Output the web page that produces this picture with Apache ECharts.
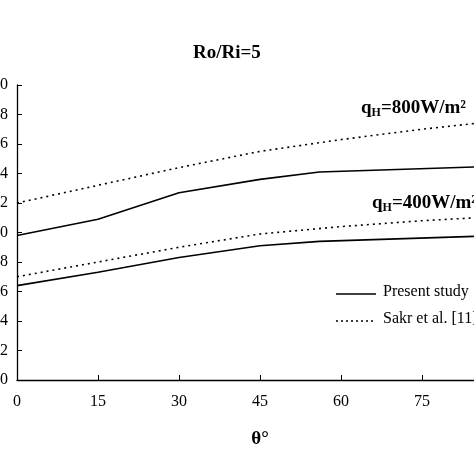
<!DOCTYPE html><html><head><meta charset="utf-8"><script src="https://cdn.jsdelivr.net/npm/echarts@6/dist/echarts.min.js"></script>
<style>html,body{margin:0;padding:0;background:#fff}#c{width:474px;height:474px}</style></head><body><div id="c"></div><script>
const xTicks=[0,15,30,45,60,75,90];
const present800=[[0,9.8],[15,10.9],[30,12.7],[45,13.6],[56,14.1],[90,14.5]];
const sakr800=[[0,12.0],[15,13.2],[30,14.4],[45,15.5],[60,16.3],[75,17.0],[90,17.6]];
const present400=[[0,6.4],[15,7.3],[30,8.3],[45,9.1],[56,9.4],[90,9.8]];
const sakr400=[[0,7.0],[15,8.0],[30,9.0],[45,9.9],[60,10.4],[75,10.8],[90,11.1]];
const ch=echarts.init(document.getElementById('c'));
const F='Liberation Serif';
const line=(d,t)=>({type:'line',data:d,symbol:'none',lineStyle:{color:'#000',width:1.6,type:t==='solid'?'solid':[2,4]}});
const rich={b:{fontFamily:F,fontWeight:'bold',fontSize:19,color:'#000'},s:{fontFamily:F,fontWeight:'bold',fontSize:12,color:'#000',verticalAlign:'bottom',padding:[8,0,0,0]}};
ch.setOption({animation:false,
grid:{left:17,top:85,width:486,height:295,containLabel:false,outerBoundsMode:'none'},
xAxis:{type:'value',min:0,max:90,interval:15,axisLine:{lineStyle:{color:'#000',width:1.3}},axisTick:{inside:true,length:5,lineStyle:{color:'#000'}},splitLine:{show:false},axisLabel:{fontFamily:F,fontSize:16,color:'#000',margin:14},
 name:'θ°',nameLocation:'middle',nameGap:50,nameTextStyle:{fontFamily:F,fontWeight:'bold',fontSize:19,color:'#000'}},
yAxis:{type:'value',min:0,max:20,interval:2,axisLine:{show:true,lineStyle:{color:'#000',width:1.3}},axisTick:{show:true,inside:true,length:5,lineStyle:{color:'#000'}},splitLine:{show:false},axisLabel:{fontFamily:F,fontSize:16,color:'#000',margin:9}},
series:[line(present800,'solid'),line(sakr800,'dot'),line(present400,'solid'),line(sakr400,'dot')],
graphic:[
{type:'text',left:193,top:44,style:{text:'Ro/Ri=5',fontFamily:F,fontWeight:'bold',fontSize:19,fill:'#000'}},
{type:'text',left:361,top:99,style:{text:'{b|q}{s|H}{b|=800W/m²}',rich:rich}},
{type:'text',left:372,top:194,style:{text:'{b|q}{s|H}{b|=400W/m²}',rich:rich}},
{type:'line',shape:{x1:336,y1:294,x2:376,y2:294},style:{stroke:'#000',lineWidth:1.3}},
{type:'line',shape:{x1:336,y1:321,x2:376,y2:321},style:{stroke:'#000',lineWidth:1.3,lineDash:[2,3]}},
{type:'text',left:383,top:284,style:{text:'Present study',fontFamily:F,fontSize:16,fill:'#000'}},
{type:'text',left:383,top:311,style:{text:'Sakr et al. [11]',fontFamily:F,fontSize:16,fill:'#000'}}
]});
</script></body></html>
